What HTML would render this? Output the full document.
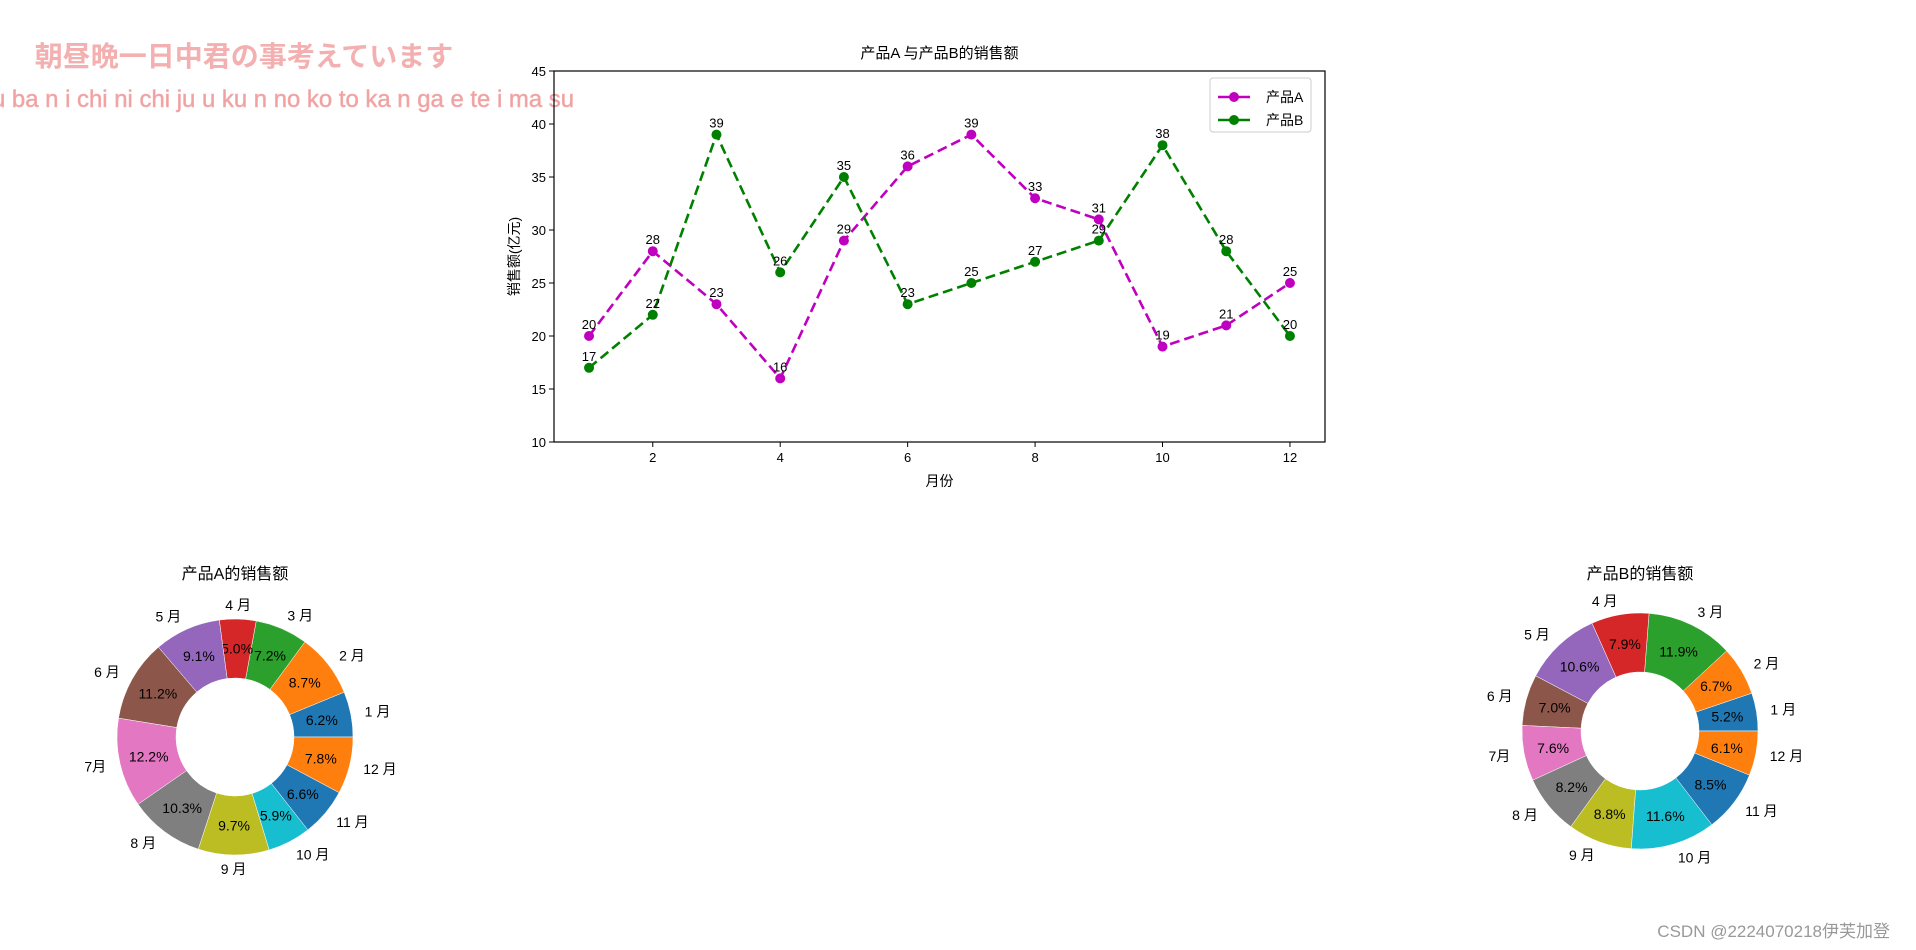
<!DOCTYPE html>
<html><head><meta charset="utf-8">
<style>
body{margin:0;background:#fff;width:1916px;height:950px;overflow:hidden;font-family:"Liberation Sans","Noto Sans CJK SC",sans-serif;}
svg{position:absolute;left:0;top:0}
text{font-family:"Liberation Sans","Noto Sans CJK SC",sans-serif;}
</style></head>
<body>
<svg id="s" width="1916" height="950">
<text x="244" y="66" text-anchor="middle" font-size="28" font-weight="bold" fill="#f4b0b0">朝昼晩一日中君の事考えています</text>
<text x="-8" y="107" font-size="24" fill="#f0a0a0" stroke="#f4b0b0" stroke-width="0.6" textLength="582" lengthAdjust="spacingAndGlyphs">u ba n i chi ni chi ju u ku n no ko to ka n ga e te i ma su</text>
<text x="1890" y="937" text-anchor="end" font-size="17" fill="#999">CSDN @2224070218伊芙加登</text>
</svg>
<script>
const months=[1,2,3,4,5,6,7,8,9,10,11,12];
const salesA=[20,28,23,16,29,36,39,33,31,19,21,25];
const salesB=[17,22,39,26,35,23,25,27,29,38,28,20];
const yTicks=[10,15,20,25,30,35,40,45];
const xTicks=[2,4,6,8,10,12];
const pieLabels=['1 月','2 月','3 月','4 月','5 月','6 月','7月','8 月','9 月','10 月','11 月','12 月'];
const pctA=[6.2,8.7,7.2,5.0,9.1,11.2,12.2,10.3,9.7,5.9,6.6,7.8];
const pctB=[5.2,6.7,11.9,7.9,10.6,7.0,7.6,8.2,8.8,11.6,8.5,6.1];
const colors=['#1f77b4','#ff7f0e','#2ca02c','#d62728','#9467bd','#8c564b','#e377c2','#7f7f7f','#bcbd22','#17becf','#1f77b4','#ff7f0e'];

const NS='http://www.w3.org/2000/svg';
const svg=document.getElementById('s');
function mk(tag,attrs,parent){const e=document.createElementNS(NS,tag);for(const k in attrs)e.setAttribute(k,attrs[k]);(parent||svg).appendChild(e);return e;}
const L=554,R=1325,T=71,B=442;
const xs=v=>L+(v-0.45)/(12.55-0.45)*(R-L);
const ys=v=>B-(v-10)/35*(B-T);

const g=mk('g',{});


let t=mk('text',{x:(L+R)/2,y:58,'text-anchor':'middle','font-size':15},g);t.textContent='产品A 与产品B的销售额';


const ax=mk('rect',{x:L,y:T,width:R-L,height:B-T,fill:'none',stroke:'#000','stroke-width':1.2},g);


yTicks.forEach(v=>{mk('line',{x1:L-5,x2:L,y1:ys(v),y2:ys(v),stroke:'#000'},g);const e=mk('text',{x:L-8,y:ys(v)+5,'text-anchor':'end','font-size':13},g);e.textContent=v;

});
xTicks.forEach(v=>{mk('line',{x1:xs(v),x2:xs(v),y1:B,y2:B+5,stroke:'#000'},g);const e=mk('text',{x:xs(v),y:B+20,'text-anchor':'middle','font-size':13},g);e.textContent=v;

});
t=mk('text',{x:(L+R)/2,y:486,'text-anchor':'middle','font-size':14},g);t.textContent='月份';


t=mk('text',{x:0,y:0,'text-anchor':'middle','font-size':14,transform:`translate(519,${(T+B)/2}) rotate(-90)`},g);t.textContent='销售额(亿元)';


function series(data,color,name){
  const pts=data.map((v,i)=>xs(months[i])+','+ys(v)).join(' ');
  const pl=mk('polyline',{points:pts,fill:'none',stroke:color,'stroke-width':2.6,'stroke-dasharray':'10,5'},g);
  
  
  data.forEach((v,i)=>{const c=mk('circle',{cx:xs(months[i]),cy:ys(v),r:5,fill:color},g);
    
    
    const e=mk('text',{x:xs(months[i]),y:ys(v)-7,'text-anchor':'middle','font-size':13},g);e.textContent=v;
    
    });
}
series(salesA,'#bf00bf','product-a');
series(salesB,'#008000','product-b');
const lg=mk('g',{},g);


mk('rect',{x:1210,y:78,width:101,height:54,rx:3,fill:'#fff',stroke:'#ccc'},lg);
[['产品A','#bf00bf',97],['产品B','#008000',120]].forEach(([n,c,y])=>{mk('line',{x1:1218,x2:1250,y1:y,y2:y,stroke:c,'stroke-width':2.6},lg);mk('circle',{cx:1234,cy:y,r:5,fill:c},lg);const e=mk('text',{x:1266,y:y+5,'font-size':14},lg);e.textContent=n;

});

function donut(cx,cy,pcts,title,name){
  const pg=mk('g',{});
  
  
  const Ro=118,Ri=59;
  const tot=pcts.reduce((a,b)=>a+b,0);
  let a0=0;
  pcts.forEach((p,i)=>{
    const a1=a0+p/tot*2*Math.PI;
    const P=(r,a)=>[cx+r*Math.cos(a),cy-r*Math.sin(a)];
    const lg=(a1-a0)>Math.PI?1:0;
    const [x1,y1]=P(Ro,a0),[x2,y2]=P(Ro,a1),[x3,y3]=P(Ri,a1),[x4,y4]=P(Ri,a0);
    const w=mk('path',{d:`M${x1},${y1} A${Ro},${Ro} 0 ${lg} 0 ${x2},${y2} L${x3},${y3} A${Ri},${Ri} 0 ${lg} 1 ${x4},${y4}Z`,fill:colors[i],stroke:'#fff','stroke-width':0.5},pg);
    
    
    const am=(a0+a1)/2;
    const [px,py]=P(Ro*0.75,am);
    let e=mk('text',{x:px,y:py+5,'text-anchor':'middle','font-size':14},pg);e.textContent=p.toFixed(1)+'%';
    
    
    const [lx,ly]=P(Ro*1.12,am);
    e=mk('text',{x:lx,y:ly+5,'text-anchor':Math.cos(am)>0.05?'start':(Math.cos(am)<-0.05?'end':'middle'),'font-size':14},pg);e.textContent=pieLabels[i];
    
    
    a0=a1;
  });
  const e=mk('text',{x:cx,y:579,'text-anchor':'middle','font-size':16},pg);e.textContent=title;
  
  
}
donut(235,737,pctA,'产品A的销售额','pie-product-a');
donut(1640,731,pctB,'产品B的销售额','pie-product-b');
</script>
</body></html>
